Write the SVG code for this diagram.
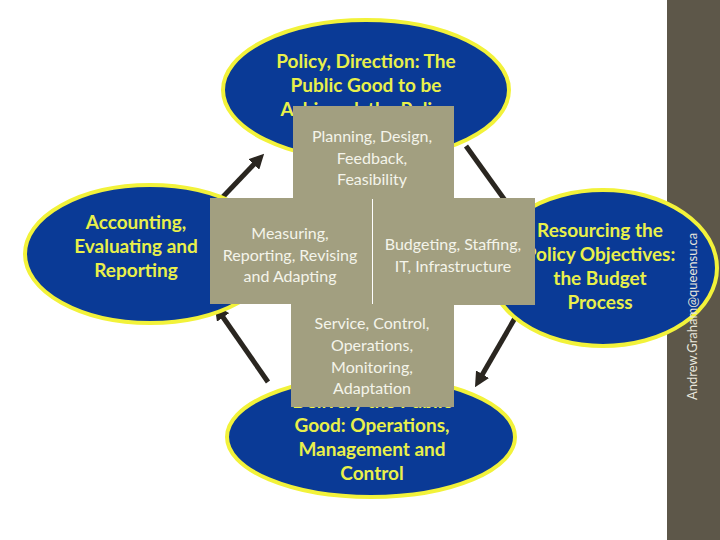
<svg xmlns="http://www.w3.org/2000/svg" width="720" height="540" viewBox="0 0 720 540">
<defs>
<style>
.el{fill:#0a3a96;stroke:#f2f23a;stroke-width:4}
.et{font-family:Lato,"Liberation Sans",sans-serif;font-weight:bold;font-size:19px;fill:#e9f04a;text-anchor:middle}
.bx{fill:#a29f80}
.bt{font-family:Lato,"Liberation Sans",sans-serif;font-size:16px;fill:#f4f4ea;text-anchor:middle}
.ar{stroke:#2a2620;stroke-width:5;fill:none;marker-end:url(#ah)}
</style>
<marker id="ah" viewBox="0 0 10 10" refX="6" refY="5" markerWidth="3" markerHeight="3" orient="auto"><path d="M0,0L10,5L0,10z" fill="#2a2620"/></marker>
</defs>
<rect width="720" height="540" fill="#fff"/>
<rect x="667" y="0" width="53" height="540" fill="#5d5749"/>
<g id="connectors">
<path class="ar" d="M218,202L260,158"/>
<path class="ar" d="M466,146L512,210"/>
<path class="ar" d="M268,382L218,310"/>
<path class="ar" d="M515,318L478,382"/>
</g>
<g id="n-policy"><ellipse class="el" cx="366" cy="90" rx="143" ry="70"/>
<text class="et" x="366" y="68">Policy, Direction: The</text><text class="et" x="366" y="92">Public Good to be</text><text class="et" x="366" y="116">Achieved, the Policy</text></g>
<g id="n-account"><ellipse class="el" cx="150" cy="254" rx="125" ry="69"/>
<text class="et" x="136" y="229">Accounting,</text><text class="et" x="136" y="253">Evaluating and</text><text class="et" x="136" y="277">Reporting</text></g>
<g id="n-resource"><ellipse class="el" cx="603" cy="268" rx="114" ry="78"/>
<text class="et" x="600" y="237">Resourcing the</text><text class="et" x="600" y="261">Policy Objectives:</text><text class="et" x="600" y="285">the Budget</text><text class="et" x="600" y="309">Process</text></g>
<g id="n-delivery"><ellipse class="el" cx="371" cy="437" rx="144" ry="60"/>
<text class="et" x="372" y="408">Delivery the Public</text><text class="et" x="372" y="432">Good: Operations,</text><text class="et" x="372" y="456">Management and</text><text class="et" x="372" y="480">Control</text></g>
<g id="n-planning"><rect class="bx" x="293" y="106" width="161" height="93"/>
<text class="bt" x="372" y="142">Planning, Design,</text><text class="bt" x="372" y="164">Feedback,</text><text class="bt" x="372" y="185">Feasibility</text></g>
<g id="n-measuring"><rect class="bx" x="210" y="198" width="162" height="106"/>
<text class="bt" x="290" y="239">Measuring,</text><text class="bt" x="290" y="261">Reporting, Revising</text><text class="bt" x="290" y="282">and Adapting</text></g>
<g id="n-budgeting"><rect class="bx" x="373" y="198" width="162" height="107"/>
<text class="bt" x="453" y="250">Budgeting, Staffing,</text><text class="bt" x="453" y="272">IT, Infrastructure</text></g>
<g id="n-service"><rect class="bx" x="291" y="304" width="163" height="103"/>
<text class="bt" x="372" y="329">Service, Control,</text><text class="bt" x="372" y="351">Operations,</text><text class="bt" x="372" y="373">Monitoring,</text><text class="bt" x="372" y="394">Adaptation</text></g>
<text transform="translate(697,400) rotate(-90)" font-family="Lato,'Liberation Sans',sans-serif" font-size="13" fill="#e8e6dc">Andrew.Graham@queensu.ca</text>
</svg>
